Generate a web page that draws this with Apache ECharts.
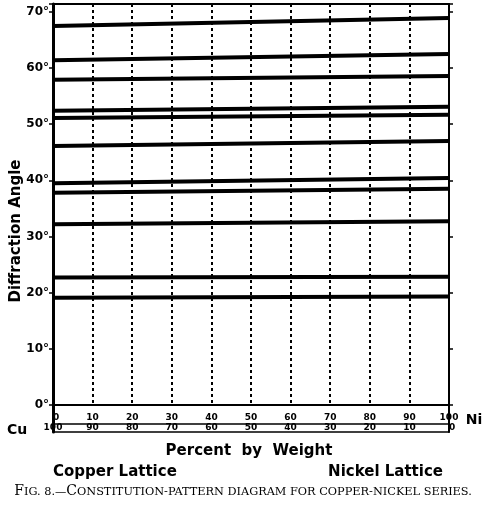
<!DOCTYPE html>
<html>
<head>
<meta charset="utf-8">
<script src="https://cdn.jsdelivr.net/npm/echarts@6/dist/echarts.min.js"></script>
<style>
html,body{margin:0;padding:0;background:#fff;}
#chart{width:488px;height:507px;}
</style>
</head>
<body>
<div id="chart"></div>
<script>
// Percent nickel at the two ends of each pattern line
const niPercent = [0, 100];
// Diffraction angle (degrees) of each line at 0% Ni (pure Cu) and 100% Ni
const angleAtCu = [67.5, 61.4, 57.9, 52.4, 51.1, 46.1, 39.5, 37.8, 32.2, 22.7, 19.1];
const angleAtNi = [68.9, 62.5, 58.6, 53.1, 51.7, 47.0, 40.4, 38.5, 32.7, 22.85, 19.3];
// Tick labels
const niTickLabels = ['0', '10', '20', '30', '40', '50', '60', '70', '80', '90', '100'];
const cuTickLabels = ['100', '90', '80', '70', '60', '50', '40', '30', '20', '10', '0'];
const angleTicks = [0, 10, 20, 30, 40, 50, 60, 70];

const SANS = 'DejaVu Sans';
const chart = echarts.init(document.getElementById('chart'), null, {renderer: 'canvas'});

const series = angleAtCu.map((a, i) => ({
  type: 'line',
  xAxisIndex: 0,
  yAxisIndex: 0,
  data: [[niPercent[0], a], [niPercent[1], angleAtNi[i]]],
  showSymbol: false,
  symbol: 'none',
  lineStyle: {color: '#000', width: 4},
  animation: false,
  silent: true
}));

const option = {
  animation: false,
  backgroundColor: '#fff',
  grid: [
    {left: 53, right: 39, top: 4, bottom: 102},
    {left: 53, right: 39, top: 405, bottom: 83},
    {left: 53, right: 39, top: 424, bottom: 75}
  ],
  xAxis: [
    { // main bottom axis (0° line) with dotted verticals
      gridIndex: 0, type: 'value', min: 0, max: 100, interval: 10, position: 'bottom',
      axisLine: {show: true, onZero: false, lineStyle: {color: '#000', width: 2}},
      axisTick: {show: false}, axisLabel: {show: false},
      splitLine: {show: true, lineStyle: {color: '#000', width: 2, type: [3, 3]}}
    },
    { // top border
      gridIndex: 0, type: 'value', min: 0, max: 100, position: 'top',
      axisLine: {show: true, onZero: false, lineStyle: {color: '#000', width: 2}},
      axisTick: {show: false}, axisLabel: {show: false}, splitLine: {show: false}
    },
    { // Ni row
      gridIndex: 1, type: 'value', min: 0, max: 100, interval: 10, position: 'bottom',
      axisLine: {show: true, onZero: false, lineStyle: {color: '#000', width: 1.5}},
      axisTick: {show: false}, splitLine: {show: false},
      axisLabel: {
        show: true, inside: true, margin: 2, color: '#000', fontFamily: SANS,
        fontWeight: 'bold', fontSize: 9, alignMinLabel: 'left',
        formatter: v => niTickLabels[Math.round(v / 10)]
      }
    },
    { // Cu row
      gridIndex: 2, type: 'value', min: 0, max: 100, interval: 10, position: 'bottom',
      axisLine: {show: true, onZero: false, lineStyle: {color: '#000', width: 1.5}},
      axisTick: {show: false}, splitLine: {show: false},
      axisLabel: {
        show: true, inside: true, margin: 0, color: '#000', fontFamily: SANS,
        fontWeight: 'bold', fontSize: 9, alignMaxLabel: 'left',
        formatter: v => cuTickLabels[Math.round(v / 10)]
      }
    }
  ],
  yAxis: [
    {
      gridIndex: 0, type: 'value', min: 0, max: 71.4, interval: 10, position: 'left',
      axisLine: {show: true, onZero: false, lineStyle: {color: '#000', width: 3}},
      axisTick: {show: true, length: 4, lineStyle: {color: '#000', width: 1.5}},
      splitLine: {show: false},
      axisLabel: {
        color: '#000', fontFamily: SANS, fontWeight: 'bold', fontSize: 12, margin: 4,
        formatter: v => angleTicks.indexOf(v) >= 0 ? v + '°' : ''
      }
    },
    {
      gridIndex: 0, type: 'value', min: 0, max: 71.4, interval: 10, position: 'right',
      axisLine: {show: true, onZero: false, lineStyle: {color: '#000', width: 2}},
      axisTick: {show: true, length: 4, lineStyle: {color: '#000', width: 1.5}},
      splitLine: {show: false}, axisLabel: {show: false}
    },
    {gridIndex: 1, type: 'value', min: 0, max: 1, position: 'left',
      axisLine: {show: true, onZero: false, lineStyle: {color: '#000', width: 3}},
      axisTick: {show: false}, axisLabel: {show: false}, splitLine: {show: false}},
    {gridIndex: 1, type: 'value', min: 0, max: 1, position: 'right',
      axisLine: {show: true, onZero: false, lineStyle: {color: '#000', width: 2}},
      axisTick: {show: false}, axisLabel: {show: false}, splitLine: {show: false}},
    {gridIndex: 2, type: 'value', min: 0, max: 1, position: 'left',
      axisLine: {show: true, onZero: false, lineStyle: {color: '#000', width: 3}},
      axisTick: {show: false}, axisLabel: {show: false}, splitLine: {show: false}},
    {gridIndex: 2, type: 'value', min: 0, max: 1, position: 'right',
      axisLine: {show: true, onZero: false, lineStyle: {color: '#000', width: 2}},
      axisTick: {show: false}, axisLabel: {show: false}, splitLine: {show: false}}
  ],
  series: series,
  graphic: [
    {type: 'text', x: 16, y: 231, rotation: Math.PI / 2,
      style: {text: 'Diffraction Angle', fontFamily: SANS, fontWeight: 'bold', fontSize: 15,
        fill: '#000', align: 'center', verticalAlign: 'middle'}},
    {type: 'text', x: 474, y: 420,
      style: {text: 'Ni', fontFamily: SANS, fontWeight: 'bold', fontSize: 14, fill: '#000',
        align: 'center', verticalAlign: 'middle'}},
    {type: 'text', x: 17, y: 430,
      style: {text: 'Cu', fontFamily: SANS, fontWeight: 'bold', fontSize: 14, fill: '#000',
        align: 'center', verticalAlign: 'middle'}},
    {type: 'text', x: 249, y: 451,
      style: {text: 'Percent  by  Weight', fontFamily: SANS, fontWeight: 'bold', fontSize: 15,
        fill: '#000', align: 'center', verticalAlign: 'middle'}},
    {type: 'text', x: 53, y: 472,
      style: {text: 'Copper Lattice', fontFamily: SANS, fontWeight: 'bold', fontSize: 15,
        fill: '#000', align: 'left', verticalAlign: 'middle'}},
    {type: 'text', x: 443, y: 472,
      style: {text: 'Nickel Lattice', fontFamily: SANS, fontWeight: 'bold', fontSize: 15,
        fill: '#000', align: 'right', verticalAlign: 'middle'}},
    {type: 'text', x: 243, y: 491,
      style: {
        text: '{b|F}{s|IG. 8.—}{b|C}{s|ONSTITUTION-PATTERN DIAGRAM FOR COPPER-NICKEL SERIES.}',
        align: 'center', verticalAlign: 'middle',
        rich: {
          b: {fontFamily: 'DejaVu Serif', fontSize: 14, fill: '#000', verticalAlign: 'bottom'},
          s: {fontFamily: 'DejaVu Serif', fontSize: 11.3, fill: '#000', verticalAlign: 'bottom'}
        }
      }}
  ]
};
chart.setOption(option);
</script>
</body>
</html>
